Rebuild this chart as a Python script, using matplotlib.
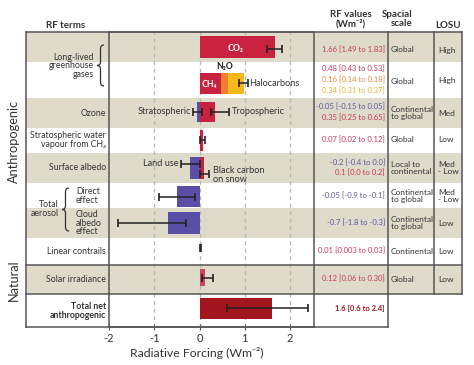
import matplotlib.pyplot as plt
from matplotlib.patches import Rectangle, PathPatch
from matplotlib.path import Path

plt.rcParams['font.family'] = ['Lato', 'DejaVu Sans']

# radiative forcing components (W m-2): best estimate and range
bar_names = ['CO2', 'CH4', 'N2O', 'Halocarbons', 'Strat. ozone', 'Trop. ozone',
             'Strat. water vapour', 'Land use', 'Black carbon on snow',
             'Direct aerosol', 'Cloud albedo', 'Linear contrails',
             'Solar irradiance', 'Total net anthropogenic']
rf_best = [1.66, 0.48, 0.16, 0.34, -0.05, 0.35, 0.07, -0.2, 0.1, -0.5, -0.7, 0.01, 0.12, 1.6]
rf_low = [1.49, 0.43, 0.14, 0.31, -0.15, 0.25, 0.02, -0.4, 0.0, -0.9, -1.8, 0.003, 0.06, 0.6]
rf_high = [1.83, 0.53, 0.18, 0.37, 0.05, 0.65, 0.12, 0.0, 0.2, -0.1, -0.3, 0.03, 0.30, 2.4]

rf_text = [['1.66 [1.49 to 1.83]'],
           ['0.48 [0.43 to 0.53]', '0.16 [0.14 to 0.18]', '0.34 [0.31 to 0.37]'],
           ['-0.05 [-0.15 to 0.05]', '0.35 [0.25 to 0.65]'],
           ['0.07 [0.02 to 0.12]'],
           ['-0.2 [-0.4 to 0.0]', '0.1 [0.0 to 0.2]'],
           ['-0.05 [-0.9 to -0.1]'],
           ['-0.7 [-1.8 to -0.3]'],
           ['0.01 [0.003 to 0.03]'],
           ['0.12 [0.06 to 0.30]'],
           ['1.6 [0.6 to 2.4]']]
spatial = ['Global', 'Global', 'Continental\nto global', 'Global', 'Local to\ncontinental',
           'Continental\nto global', 'Continental\nto global', 'Continental', 'Global']
losu = ['High', 'High', 'Med', 'Low', 'Med\n- Low', 'Med\n- Low', 'Low', 'Low', 'Low']

red = '#c8223f'
orange = '#ef7e2c'
yellow = '#f6b81a'
blue = '#5a4fa6'
solar_c = '#c94560'
total_c = '#a3161f'
t_red = '#c73a5c'
t_blue = '#5b58a8'
t_orange = '#e98a3c'
t_yellow = '#e4b62c'
beige = '#dedbcb'
lc = '#555555'

W, H = 474, 365
fig = plt.figure(figsize=(W / 100, H / 100), dpi=100)
ax = fig.add_axes([109 / W, 1 - 327 / H, 205 / W, 295 / H])
ax.set_facecolor('none')
ax.set_xlim(-2, 2.53)
ax.set_ylim(327, 32)   # pixel-like rows, top to bottom


def px(p):
    # horizontal pixel -> axes fraction
    return (p - 109) / 205.0


T = ax.get_yaxis_transform()

# row stripes
rows = [(32, 62, True, 462), (62, 98, False, 462), (98, 128, True, 462), (128, 153, False, 462),
        (153, 183, True, 462), (183, 208, False, 462), (208, 238, True, 462),
        (238, 265, False, 462), (265, 294, True, 462), (294, 327, False, 388)]
for y0, y1, shaded, xr in rows:
    if shaded:
        ax.add_patch(Rectangle((px(26), y0), px(xr) - px(26), y1 - y0, transform=T,
                               facecolor=beige, edgecolor='none', clip_on=False, zorder=0))

# table lines
def hline(y, x0, x1):
    ax.plot([px(x0), px(x1)], [y, y], transform=T, color=lc, lw=1.1, clip_on=False, zorder=5)


def vline(x, y0, y1):
    ax.plot([px(x), px(x)], [y0, y1], transform=T, color=lc, lw=1.1, clip_on=False, zorder=5)


hline(32, 26, 462)
hline(265, 26, 462)
hline(294, 26, 462)
hline(327, 26, 388)
vline(26, 32, 327)
vline(388, 32, 327)
vline(434, 32, 294)
vline(462, 32, 294)
for s in ax.spines.values():
    s.set_color(lc)
    s.set_linewidth(1.1)

# grid
for gx in [-1, 0, 1, 2]:
    ax.axvline(gx, color='#b5b5b5', lw=0.9, ls=(0, (3, 3)), zorder=1)

# bars
bar_y = [47, 83, 83, 83, 112, 112, 140, 168, 168, 196, 223, 248, 277, 308]
bar_h = [22, 21, 21, 21, 20, 20, 21, 22, 22, 21, 22, 13, 17, 21]
colors = [red, red, orange, yellow, blue, red, red, blue, red, blue, blue, red, solar_c, total_c]
lefts = [0, 0, rf_best[1], rf_best[1] + rf_best[2], 0, 0, 0, 0, 0, 0, 0, 0, 0, 0]
ax.barh(bar_y, rf_best, height=bar_h, left=lefts, color=colors, zorder=2)

ek = dict(color='#222222', elinewidth=1.1, capsize=2.6, capthick=1.2, fmt='none', zorder=4)
err_idx = [0, 4, 5, 6, 7, 8, 9, 10, 11, 12, 13]
err_y = [49, 112, 112, 140, 164, 174, 197, 223, 248, 278, 308]
for i, ey in zip(err_idx, err_y):
    b = rf_best[i] + lefts[i]
    ax.errorbar(b, ey, xerr=[[b - rf_low[i] - lefts[i]], [rf_high[i] + lefts[i] - b]], **ek)
# combined error of the other long-lived gases
g_best = sum(rf_best[1:4])
ax.errorbar(g_best, 83, xerr=[[g_best - sum(rf_low[1:4])], [sum(rf_high[1:4]) - g_best]], **ek)

fs = 6.3
ax.text(0.8, 49, 'CO₂', color='white', fontsize=6.3, fontweight='bold', ha='center', va='center', zorder=6)
ax.text(0.22, 84, 'CH₄', color='white', fontsize=6.3, fontweight='bold', ha='center', va='center', zorder=6)
ax.text(0.55, 66, 'N₂O', color='#222222', fontsize=6.3, fontweight='bold', ha='center', va='center', zorder=6)
ax.text(1.09, 83, 'Halocarbons', color='#333333', fontsize=6.6, ha='left', va='center', zorder=6)
ax.text(-0.18, 112, 'Stratospheric', color='#333333', fontsize=6.6, ha='right', va='center', zorder=6)
ax.text(0.71, 112, 'Tropospheric', color='#333333', fontsize=6.6, ha='left', va='center', zorder=6)
ax.text(-0.47, 163, 'Land use', color='#333333', fontsize=6.6, ha='right', va='center', zorder=6)
ax.text(0.3, 175, 'Black carbon\non snow', color='#333333', fontsize=6.6, ha='left', va='center',
        linespacing=0.9, zorder=6)

# axis
ax.set_xticks([-2, -1, 0, 1, 2])
ax.set_xticklabels(['-2', '-1', '0', '1', '2'])
ax.set_yticks([])
ax.tick_params(axis='x', direction='inout', length=4, color=lc, labelsize=8,
               labelcolor='#333333', pad=2.5)
ax.set_xlabel('Radiative Forcing (Wm⁻²)', fontsize=8.8, color='#333333')
ax.xaxis.set_label_coords(px(197), -0.068)

# left column labels
def left_label(y, s, x=106, ha='right', **kw):
    ax.text(px(x), y, s, transform=T, ha=ha, va='center', fontsize=fs, color='#333333',
            linespacing=0.95, **kw)


left_label(66, 'Long-lived\ngreenhouse\ngases', x=94)
left_label(113, 'Ozone')
left_label(140, 'Stratospheric water\nvapour from CH₄')
left_label(168, 'Surface albedo')
left_label(209, 'Total\naerosol', x=59)
left_label(196, 'Direct\neffect', x=76, ha='left')
left_label(223, 'Cloud\nalbedo\neffect', x=76, ha='left')
left_label(251, 'Linear contrails')
left_label(280, 'Solar irradiance')
left_label(311, 'Total net\nanthropogenic', fontweight='bold')


def brace(x, y0, y1, w=7, d=4):
    ym = (y0 + y1) / 2.0
    xm = x + w / 2.0
    verts = [(px(x + w), y0), (px(xm), y0), (px(xm), y0 + d),
             (px(xm), ym - d),
             (px(xm), ym), (px(x), ym),
             (px(xm), ym), (px(xm), ym + d),
             (px(xm), y1 - d),
             (px(xm), y1), (px(x + w), y1)]
    codes = [Path.MOVETO, Path.CURVE3, Path.CURVE3, Path.LINETO, Path.CURVE3, Path.CURVE3,
             Path.CURVE3, Path.CURVE3, Path.LINETO, Path.CURVE3, Path.CURVE3]
    ax.add_patch(PathPatch(Path(verts, codes), transform=T, facecolor='none', edgecolor='#333333',
                           lw=0.9, clip_on=False, zorder=6))


brace(97, 45, 86)
brace(62, 188, 231)

ax.text(px(14), 141, 'Anthropogenic', transform=T, rotation=90, ha='center', va='center',
        fontsize=9.2, color='#333333')
ax.text(px(14), 280, 'Natural', transform=T, rotation=90, ha='center', va='center',
        fontsize=9.2, color='#333333')

# headers
hk = dict(transform=T, fontsize=7, fontweight='bold', color='#333333', va='center', linespacing=1.0)
ax.text(px(66), 25, 'RF terms', ha='center', **hk)
ax.text(px(351), 19, 'RF values\n(Wm⁻²)', ha='center', **hk)
ax.text(px(413), 19, 'Spacial\nscale', ha='right', **hk)
ax.text(px(448), 26, 'LOSU', ha='center', **hk)

# RF value column
rf_y = [[50], [69, 80, 91], [107, 118], [140], [163, 173], [196], [223], [251], [279], [309]]
rf_c = [[t_red], [t_red, t_orange, t_yellow], [t_blue, t_red], [t_red], [t_blue, t_red],
        [t_blue], [t_blue], [t_red], [t_red], [total_c]]
for texts, ys, cs in zip(rf_text, rf_y, rf_c):
    for s, y, c in zip(texts, ys, cs):
        ax.text(px(385), y, s, transform=T, ha='right', va='center', fontsize=5.5, color=c,
                fontweight='bold' if c == total_c else 'normal')

row_mid = [50, 81, 113, 140, 168, 196, 223, 251, 279]
for y, s, l in zip(row_mid, spatial, losu):
    ax.text(px(391), y, s, transform=T, ha='left', va='center', fontsize=6.0, color='#333333',
            linespacing=0.95)
    ax.text(px(438), y, l, transform=T, ha='left', va='center', fontsize=6.0, color='#333333',
            linespacing=0.95)

fig.savefig('out.png', dpi=100)
